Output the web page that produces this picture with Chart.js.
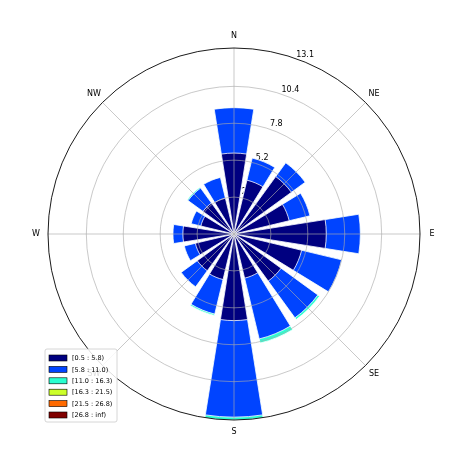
<!DOCTYPE html>
<html><head><meta charset="utf-8">
<script src="https://cdn.jsdelivr.net/npm/chart.js@4/dist/chart.umd.min.js"></script>
<style>html,body{margin:0;padding:0;background:#fff}#c{display:block}</style>
</head><body>
<div style="width:468px;height:468px"><canvas id="c" width="468" height="468"></canvas></div>
<script>
const directions = ['N','NNE','NE','ENE','E','ESE','SE','SSE','S','SSW','SW','WSW','W','WNW','NW','NNW'];
const compassLabels = ['N','NE','E','SE','S','SW','W','NW'];
const radialTicks = [2.6, 5.2, 7.8, 10.4, 13.1];
const binLabels = ['[0.5 : 5.8)','[5.8 : 11.0)','[11.0 : 16.3)','[16.3 : 21.5)','[21.5 : 26.8)','[26.8 : inf)'];
const binColors = ['#000080','#0044ff','#2affd0','#ccff2a','#ff6a00','#800000'];
const bin1 = [5.7,3.9,5.0,4.0,6.5,4.9,4.1,3.2,6.1,3.3,3.2,2.8,3.6,2.4,2.7,2.6];
const bin2 = [3.2,1.6,1.2,1.5,2.4,2.9,3.2,4.4,6.8,2.5,1.4,0.8,0.7,0.7,1.3,1.5];
const bin3 = [0,0,0,0,0,0,0.15,0.3,0.2,0.1,0,0,0,0,0.08,0];

const BAR = 18, GAP = 4.5;
function cum(arrs){ return directions.map((d,i)=>arrs.reduce((s,a)=>s+a[i],0)); }
function expand(vals){ const o=[]; vals.forEach(v=>{o.push(v);o.push(0);}); return o; }
const labels32 = []; directions.forEach(d=>{labels32.push(d);labels32.push('');});
const stacks = [cum([bin1]), cum([bin1,bin2]), cum([bin1,bin2,bin3])];
const datasets = stacks.map((s,k)=>({
  data: expand(s), backgroundColor: binColors[k], borderColor:'#ffffff', borderWidth:0.8,
  angle: ctx => (ctx.dataIndex % 2 ? GAP : BAR)
}));

const deco = {
  id:'deco',
  beforeDatasetsDraw(chart){
    const sc = chart.scales.r, ctx = chart.ctx, cx = sc.xCenter, cy = sc.yCenter;
    ctx.save();
    ctx.fillStyle='#000'; ctx.font='8px "DejaVu Sans"'; ctx.textAlign='center'; ctx.textBaseline='middle';
    const a = 22.5*Math.PI/180;
    radialTicks.forEach(v=>{ const r = sc.getDistanceFromCenterForValue(v)+5;
      ctx.fillText(String(v), cx+r*Math.sin(a)-2, cy-r*Math.cos(a)-3); });
    ctx.restore();
  },
  afterDatasetsDraw(chart){
    const sc = chart.scales.r, ctx = chart.ctx, cx = sc.xCenter, cy = sc.yCenter, R = sc.drawingArea;
    ctx.save(); ctx.strokeStyle='rgba(170,170,170,0.8)'; ctx.lineWidth=0.8;
    for(let i=0;i<8;i++){ const a=i*Math.PI/4-Math.PI/2;
      ctx.beginPath(); ctx.moveTo(cx,cy); ctx.lineTo(cx+R*Math.cos(a), cy+R*Math.sin(a)); ctx.stroke(); }
    radialTicks.slice(0,-1).forEach(v=>{ ctx.beginPath();
      ctx.arc(cx,cy,sc.getDistanceFromCenterForValue(v),0,2*Math.PI); ctx.stroke(); });
    ctx.restore();
  },
  afterDraw(chart){
    const sc = chart.scales.r, ctx = chart.ctx, cx = sc.xCenter, cy = sc.yCenter, R = sc.drawingArea;
    ctx.save();
    ctx.strokeStyle='#000'; ctx.lineWidth=0.9; ctx.beginPath(); ctx.arc(cx,cy,R,0,2*Math.PI); ctx.stroke();
    ctx.fillStyle='#000'; ctx.font='8px "DejaVu Sans"'; ctx.textAlign='center'; ctx.textBaseline='middle';
    compassLabels.forEach((l,i)=>{ const a=i*Math.PI/4; const r=R+12;
      ctx.fillText(l, cx+r*Math.sin(a), cy-r*Math.cos(a)); });
    const lx=45, ly=349, lw=72, lh=73;
    ctx.fillStyle='rgba(255,255,255,0.85)'; ctx.strokeStyle='#cccccc'; ctx.lineWidth=0.8;
    ctx.beginPath(); ctx.roundRect(lx,ly,lw,lh,2); ctx.fill(); ctx.stroke();
    ctx.font='6.5px "DejaVu Sans"'; ctx.textAlign='left';
    binLabels.forEach((t,i)=>{ const y=ly+9+i*11.4;
      ctx.fillStyle=binColors[i]; ctx.fillRect(lx+4,y-3,18,6);
      ctx.strokeStyle='#000'; ctx.lineWidth=0.6; ctx.strokeRect(lx+4,y-3,18,6);
      ctx.fillStyle='#000'; ctx.fillText(t, lx+27, y+0.5); });
    ctx.restore();
  }
};

new Chart(document.getElementById('c'), {
  type:'polarArea',
  data:{ labels: labels32, datasets },
  options:{
    responsive:false, animation:false,
    layout:{ padding:48 },
    plugins:{ legend:{display:false}, tooltip:{enabled:false} },
    scales:{ r:{
      min:0, max:13.1, startAngle:-BAR/2,
      afterBuildTicks(s){ s.ticks = [0].concat(radialTicks).map(v=>({value:v})); },
      ticks:{ display:false },
      grid:{ display:false },
      angleLines:{ display:false },
      pointLabels:{ display:false }
    }}
  },
  plugins:[deco]
});
</script>
</body></html>
